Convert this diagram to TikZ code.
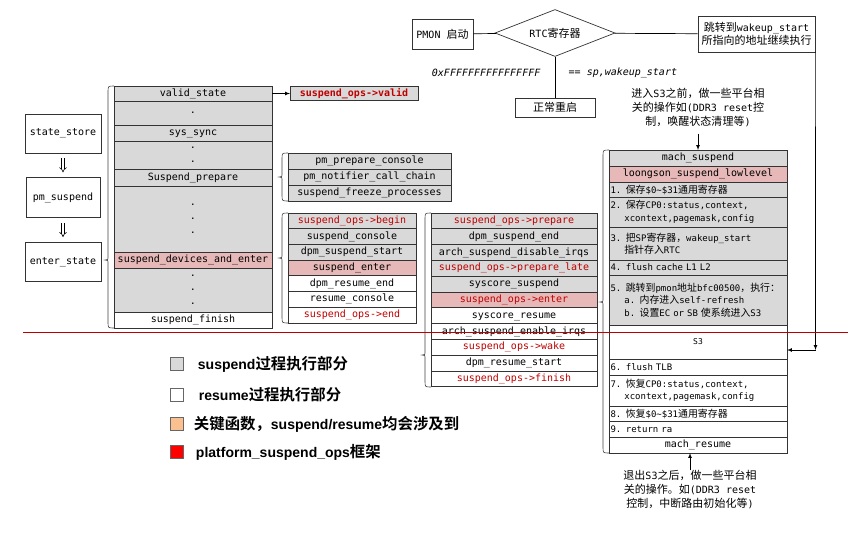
\documentclass[tikz,border=0pt]{standalone}
\usepackage{fontspec}
\setmonofont{DejaVu Sans Mono}[ItalicFont={DejaVu Sans Mono Oblique},BoldFont={DejaVu Sans Mono Bold}]
\newfontfamily\cjk{Noto Sans CJK SC}[Scale=1.1,BoldFont={Noto Sans CJK SC Bold}]
\newfontfamily\legfont{Liberation Sans}
\newcommand{\zh}[1]{{\cjk #1}}
\usetikzlibrary{
  shapes.geometric,
  positioning,
  arrows
}
\definecolor{suspgray}{RGB}{217,217,217}
\definecolor{keypink}{RGB}{230,185,184}
\definecolor{opsred}{RGB}{192,0,0}
\definecolor{legpeach}{RGB}{250,192,144}
\newcommand{\sidebrace}[4]{%
  \draw[brace] (#1,#2) .. controls ({#1-6},#2) .. ({#1-6},{#2+6})
    -- ({#1-6},{#3-4}) .. controls ({#1-6},#3) .. ({#1-9},#3)
    .. controls ({#1-6},#3) .. ({#1-6},{#3+4})
    -- ({#1-6},{#4-6}) .. controls ({#1-6},#4) .. (#1,#4);}

\begin{document}
\begin{tikzpicture}[x=1pt, y=-1pt, >=latex, line width=0.7pt, node distance=24pt,
    cell/.style={draw=black!80, inner sep=0pt, outer sep=0pt, minimum height=15.8pt,
      font=\ttfamily\fontsize{10}{12}\selectfont, text height=7.5pt, text depth=2.5pt},
    susp/.style={cell, fill=suspgray},
    resm/.style={cell, fill=white},
    keyf/.style={cell, fill=keypink},
    ops/.style={text=opsred},
    dotrow/.style={susp, text height={}, text depth={}, align=center,
      font=\ttfamily\fontsize{10}{14}\selectfont},
    lowcell/.style={text height={}, text depth={}, align=left, text width=175pt,
      font=\ttfamily\fontsize{9}{12.5}\selectfont},
    colmain/.style={minimum width=158pt},
    colprep/.style={minimum width=163pt},
    coldev/.style={minimum width=128pt, minimum height=15.7pt},
    colent/.style={minimum width=166pt},
    colmach/.style={minimum width=178pt},
    plain/.style={draw=black!80, inner sep=2pt, font=\ttfamily\fontsize{10}{13}\selectfont},
    brace/.style={draw=black!75, line width=0.6pt},
    legbox/.style={draw=black!60, minimum width=12.5pt, minimum height=13pt, inner sep=0pt},
    legtext/.style={font=\legfont\bfseries\fontsize{14}{16}\selectfont, inner sep=0pt}]
    \useasboundingbox (0,0) rectangle (864,544);

    \node[plain, minimum width=61pt, minimum height=30pt] (pmon) at (442.5,34) {PMON \zh{启动}};
    \node[plain, diamond, aspect=2.5, inner sep=0pt, minimum width=120pt, minimum height=47pt] (rtc) at (555,33) {RTC\zh{寄存器}};
    \node[plain, align=center, minimum width=117pt, minimum height=36pt] (jump) at (756.5,34) {\zh{跳转到}wakeup\_start\\\zh{所指向的地址继续执行}};
    \node[plain, minimum width=80pt, minimum height=19pt] (reboot) at (555,107.5) {\zh{正常重启}};
    \node[font=\ttfamily\itshape\fontsize{10}{12}\selectfont, anchor=east] (allf) at (544,73) {0xFFFFFFFFFFFFFFFF};
    \node[font=\ttfamily\itshape\fontsize{10}{12}\selectfont, anchor=west] (spwake) at (565,73) {== sp,wakeup\_start};

    \draw (pmon) -- (rtc);
    \draw (rtc) -- (jump);
    \draw (rtc) -- (reboot);

    \node[plain, minimum width=76pt, minimum height=39pt] (store) at (63,133.5) {state\_store};
    \node[plain, minimum width=74pt, minimum height=40pt, below=of store] (pmsusp) {pm\_suspend};
    \node[plain, minimum width=76pt, minimum height=39pt, below=of pmsusp] (enter) {enter\_state};

    \draw[double, double distance=2pt, line width=0.6pt, -implies, shorten <=5pt, shorten >=5pt] (store) -- (pmsusp);
    \draw[double, double distance=2pt, line width=0.6pt, -implies, shorten <=5pt, shorten >=5pt] (pmsusp) -- (enter);

    \node[susp, colmain, minimum height=15pt, anchor=north west] (valid) at (114,86) {valid\_state};
    \node[dotrow, colmain, minimum height=24pt, below=0pt of valid] (dota) {.};
    \node[susp, colmain, minimum height=16pt, below=0pt of dota] (sync) {sys\_sync};
    \node[dotrow, colmain, minimum height=28pt, below=0pt of sync] (dotb) {.\\.};
    \node[susp, colmain, minimum height=17pt, below=0pt of dotb] (prep) {Suspend\_prepare};
    \node[dotrow, colmain, minimum height=66pt, below=0pt of prep] (dotc) {.\\.\\.};
    \node[keyf, colmain, minimum height=16pt, below=0pt of dotc] (sdae) {suspend\_devices\_and\_enter};
    \node[dotrow, colmain, minimum height=44pt, below=0pt of sdae] (dotd) {.\\.\\.};
    \node[resm, colmain, minimum height=16pt, below=0pt of dotd] (finish) {suspend\_finish};

    \node[susp, ops, minimum width=128pt, minimum height=14pt, right=18pt of valid,
      font=\ttfamily\bfseries\fontsize{10}{12}\selectfont] (opsvalid) {suspend\_ops->valid};
    \draw[->] (valid) -- (opsvalid);

    \node[susp, colprep, minimum height=16pt, anchor=north west] (prepcon) at (288,153) {pm\_prepare\_console};
    \node[susp, colprep, minimum height=16pt, below=0pt of prepcon] (notif) {pm\_notifier\_call\_chain};
    \node[susp, colprep, minimum height=16pt, below=0pt of notif] (freeze) {suspend\_freeze\_processes};

    \node[susp, ops, coldev, anchor=north west] (begin) at (288,213) {suspend\_ops->begin};
    \node[susp, coldev, below=0pt of begin] (suscon) {suspend\_console};
    \node[susp, coldev, below=0pt of suscon] (dpmstart) {dpm\_suspend\_start};
    \node[keyf, coldev, below=0pt of dpmstart] (susenter) {suspend\_enter};
    \node[resm, coldev, below=0pt of susenter] (dpmend) {dpm\_resume\_end};
    \node[resm, coldev, below=0pt of dpmend] (rescon) {resume\_console};
    \node[resm, ops, coldev, below=0pt of rescon] (opsend) {suspend\_ops->end};

    \node[susp, ops, colent, anchor=north west] (opsprep) at (431,213) {suspend\_ops->prepare};
    \node[susp, colent, below=0pt of opsprep] (dpmsend) {dpm\_suspend\_end};
    \node[susp, colent, below=0pt of dpmsend] (disirq) {arch\_suspend\_disable\_irqs};
    \node[susp, ops, colent, below=0pt of disirq] (opslate) {suspend\_ops->prepare\_late};
    \node[susp, colent, below=0pt of opslate] (syssus) {syscore\_suspend};
    \node[keyf, ops, colent, below=0pt of syssus] (opsenter) {suspend\_ops->enter};
    \node[resm, colent, below=0pt of opsenter] (sysres) {syscore\_resume};
    \node[resm, colent, below=0pt of sysres] (enairq) {arch\_suspend\_enable\_irqs};
    \node[resm, ops, colent, below=0pt of enairq] (opswake) {suspend\_ops->wake};
    \node[resm, colent, below=0pt of opswake] (dpmrstart) {dpm\_resume\_start};
    \node[resm, ops, colent, below=0pt of dpmrstart] (opsfinish) {suspend\_ops->finish};

    \node[susp, colmach, minimum height=16pt, anchor=north west] (machsusp) at (609,150) {mach\_suspend};
    \node[keyf, colmach, minimum height=16pt, below=0pt of machsusp] (lowlevel) {loongson\_suspend\_lowlevel};
    \node[susp, lowcell, colmach, minimum height=15pt, below=0pt of lowlevel] (stepa) {1. \zh{保存}\$0\textasciitilde\$31\zh{通用寄存器}};
    \node[susp, lowcell, colmach, minimum height=30pt, below=0pt of stepa] (stepb) {2. \zh{保存}CP0:status,context,\\\hphantom{2.~}xcontext,pagemask,config};
    \node[susp, lowcell, colmach, minimum height=33pt, below=0pt of stepb] (stepc) {3. \zh{把}SP\zh{寄存器，}wakeup\_start\\\hphantom{3.~}\zh{指针存入}RTC};
    \node[susp, lowcell, colmach, minimum height=15pt, below=0pt of stepc] (stepd) {4. flush cache L1 L2};
    \node[susp, lowcell, colmach, minimum height=50pt, below=0pt of stepd] (stepe) {5. \zh{跳转到}pmon\zh{地址}bfc00500\zh{，执行：}\\\hphantom{5.~}a. \zh{内存进入}self-refresh\\\hphantom{5.~}b. \zh{设置}EC or SB \zh{使系统进入}S3};
    \node[resm, colmach, minimum height=34pt, below=0pt of stepe, font=\ttfamily\fontsize{8}{10}\selectfont] (s3) {S3};
    \node[resm, lowcell, colmach, minimum height=16pt, below=0pt of s3] (stepf) {6. flush TLB};
    \node[resm, lowcell, colmach, minimum height=31pt, below=0pt of stepf] (stepg) {7. \zh{恢复}CP0:status,context,\\\hphantom{7.~}xcontext,pagemask,config};
    \node[resm, lowcell, colmach, minimum height=15pt, below=0pt of stepg] (steph) {8. \zh{恢复}\$0\textasciitilde\$31\zh{通用寄存器}};
    \node[resm, lowcell, colmach, minimum height=16pt, below=0pt of steph] (stepi) {9. return ra};
    \node[resm, colmach, minimum height=16pt, below=0pt of stepi] (machres) {mach\_resume};

    \node[align=center, inner sep=0pt, font=\ttfamily\fontsize{10}{14}\selectfont] (enternote) at (698,108) {\zh{进入}S3\zh{之前，做一些平台相}\\\zh{关的操作如}(DDR3 reset\zh{控}\\\zh{制，唤醒状态清理等})};
    \node[align=center, inner sep=0pt, font=\ttfamily\fontsize{10}{14}\selectfont] (exitnote) at (690,490) {\zh{退出}S3\zh{之后，做一些平台相}\\\zh{关的操作。如}(DDR3 reset\\\zh{控制，中断路由初始化等})};

    \draw[->] ([yshift=-6pt]enternote.south) -- (enternote.south |- machsusp.north);
    \draw[->] (exitnote.north) -- (exitnote.north |- machres.south);

    \coordinate (s3turn) at (815.5,350);
    \draw[->] (jump.south east) -- (s3turn);
    \draw[->] (s3turn) -- (s3turn -| s3.east);

    \sidebrace{114}{86}{260}{328}
    \sidebrace{288}{153}{177}{201}
    \sidebrace{288}{213}{258}{323}
    \sidebrace{431}{213}{355}{387}
    \sidebrace{609}{150}{302}{453}

    \node[legbox, fill=suspgray] (legsusp) at (177,364) {};
    \node[legbox, fill=white] (legres) at (177,395) {};
    \node[legbox, fill=legpeach] (legkey) at (177,424) {};
    \node[legbox, fill=red] (legops) at (177,452) {};
    \node[legtext, right=14pt of legsusp] {suspend\zh{过程执行部分}};
    \node[legtext, right=15pt of legres] {resume\zh{过程执行部分}};
    \node[legtext, right=10pt of legkey] {\zh{关键函数，}suspend/resume\zh{均会涉及到}};
    \node[legtext, right=12pt of legops] {platform\_suspend\_ops\zh{框架}};

    \draw[opsred, line width=0.8pt] (23,332) -- (848,332);
\end{tikzpicture}
\end{document}
